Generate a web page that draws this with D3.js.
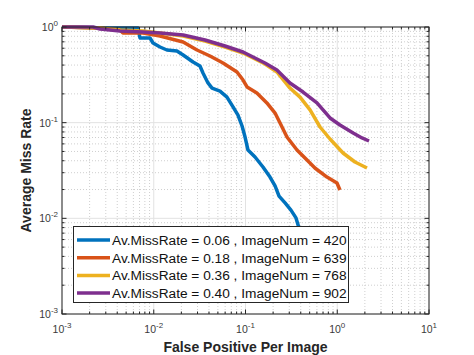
<!DOCTYPE html>
<html><head><meta charset="utf-8">
<script src="https://cdn.jsdelivr.net/npm/d3@7"></script>
<style>body{margin:0;background:#fff}svg{display:block}text{font-family:"Liberation Sans",Arial,Helvetica,sans-serif}</style>
</head><body><div id="chart"></div>
<script>
// ---- data ----
const seriesNames = ["Av.MissRate = 0.06 , ImageNum = 420","Av.MissRate = 0.18 , ImageNum = 639","Av.MissRate = 0.36 , ImageNum = 768","Av.MissRate = 0.40 , ImageNum = 902"];
const seriesColors = ["#0072BD","#D95319","#EDB120","#7E2F8E"];
const blueFPPI = [0.001,0.00333,0.00673,0.00708,0.0091,0.00982,0.0117,0.0139,0.0179,0.0209,0.0268,0.0319,0.0344,0.039,0.0432,0.0527,0.0628,0.0731,0.0828,0.0917,0.0989,0.1064,0.127,0.155,0.185,0.210,0.232,0.270,0.313,0.355,0.383,0.403];
const blueMR   = [1,0.976,0.976,0.767,0.767,0.680,0.618,0.575,0.561,0.510,0.431,0.391,0.331,0.260,0.230,0.214,0.185,0.146,0.120,0.0923,0.0708,0.0518,0.0438,0.0344,0.0270,0.0218,0.0171,0.0145,0.0122,0.0101,0.00793,0.00594];
const orangeFPPI = [0.001,0.00259,0.00428,0.00462,0.00764,0.0117,0.0209,0.0296,0.0410,0.0569,0.0807,0.094,0.104,0.133,0.171,0.210,0.238,0.283,0.364,0.468,0.571,0.773,0.993,1.07];
const orangeMR   = [1,0.976,0.930,0.866,0.866,0.805,0.697,0.575,0.498,0.421,0.339,0.279,0.236,0.204,0.161,0.126,0.0992,0.0708,0.0518,0.0407,0.0336,0.0270,0.0234,0.0198];
const yellowFPPI = [0.001,0.00259,0.00428,0.00764,0.0117,0.0209,0.0362,0.0598,0.094,0.127,0.163,0.220,0.305,0.393,0.505,0.649,0.834,1.156,1.56,2.11];
const yellowMR   = [1,0.976,0.930,0.908,0.866,0.805,0.714,0.618,0.535,0.463,0.411,0.339,0.230,0.185,0.136,0.0901,0.0675,0.0482,0.0388,0.0336];
const purpleFPPI = [0.001,0.00218,0.00259,0.00428,0.00764,0.0117,0.0209,0.0362,0.0598,0.094,0.127,0.163,0.220,0.305,0.424,0.601,0.834,1.07,1.49,1.86,2.22];
const purpleMR   = [1,1,0.953,0.908,0.887,0.866,0.825,0.731,0.633,0.548,0.474,0.421,0.355,0.260,0.209,0.161,0.112,0.0946,0.0780,0.0692,0.0643];
const xTickExps = [-3,-2,-1,0,1];
const yTickExps = [-3,-2,-1,0];
const xLabel = "False Positive Per Image";
const yLabel = "Average Miss Rate";

const series = [
  {x: blueFPPI, y: blueMR},
  {x: orangeFPPI, y: orangeMR},
  {x: yellowFPPI, y: yellowMR},
  {x: purpleFPPI, y: purpleMR}
];

const W = 474, H = 355;
const L = 62, R = 429, T = 27, B = 314;
const svg = d3.select("#chart").append("svg").attr("width", W).attr("height", H);
const x = d3.scaleLog().domain([1e-3, 1e1]).range([L, R]);
const y = d3.scaleLog().domain([1e-3, 1e0]).range([B, T]);

const minorVals = (lo, hi) => { const a = []; for (let e = lo; e < hi; e++) for (let k = 2; k <= 9; k++) a.push(k * Math.pow(10, e)); return a; };
const xMinor = minorVals(-3, 1), yMinor = minorVals(-3, 0);
const xMajor = xTickExps.map(e => Math.pow(10, e)), yMajor = yTickExps.map(e => Math.pow(10, e));

const grid = svg.append("g");
grid.selectAll(".xm").data(xMinor).enter().append("line")
  .attr("x1", d => x(d)).attr("x2", d => x(d)).attr("y1", T).attr("y2", B)
  .attr("stroke", "#cfcfcf").attr("stroke-width", 1).attr("stroke-dasharray", "1,2");
grid.selectAll(".ym").data(yMinor).enter().append("line")
  .attr("y1", d => y(d)).attr("y2", d => y(d)).attr("x1", L).attr("x2", R)
  .attr("stroke", "#cfcfcf").attr("stroke-width", 1).attr("stroke-dasharray", "1,2");
grid.selectAll(".xM").data(xMajor).enter().append("line")
  .attr("x1", d => x(d)).attr("x2", d => x(d)).attr("y1", T).attr("y2", B)
  .attr("stroke", "#e2e2e2").attr("stroke-width", 1);
grid.selectAll(".yM").data(yMajor).enter().append("line")
  .attr("y1", d => y(d)).attr("y2", d => y(d)).attr("x1", L).attr("x2", R)
  .attr("stroke", "#e2e2e2").attr("stroke-width", 1);

const line = d3.line().x(d => x(d[0])).y(d => y(d[1]));
series.forEach((s, i) => {
  svg.append("path").datum(s.x.map((v, j) => [v, s.y[j]]))
    .attr("d", line).attr("fill", "none").attr("stroke", seriesColors[i])
    .attr("stroke-width", 3.5).attr("stroke-linejoin", "round");
});

const ax = svg.append("g");
function ticks(vals, len, isX) {
  vals.forEach(v => {
    if (isX) {
      const p = x(v);
      ax.append("line").attr("x1", p).attr("x2", p).attr("y1", B).attr("y2", B - len).attr("stroke", "#262626");
      ax.append("line").attr("x1", p).attr("x2", p).attr("y1", T).attr("y2", T + len).attr("stroke", "#262626");
    } else {
      const p = y(v);
      ax.append("line").attr("y1", p).attr("y2", p).attr("x1", L).attr("x2", L + len).attr("stroke", "#262626");
      ax.append("line").attr("y1", p).attr("y2", p).attr("x1", R).attr("x2", R - len).attr("stroke", "#262626");
    }
  });
}
ticks(xMinor, 2.5, true); ticks(xMajor, 4.5, true);
ticks(yMinor, 2.5, false); ticks(yMajor, 4.5, false);
ax.append("rect").attr("x", L).attr("y", T).attr("width", R - L).attr("height", B - T)
  .attr("fill", "none").attr("stroke", "#262626").attr("stroke-width", 1);

xTickExps.forEach(e => {
  const t = svg.append("text").attr("x", x(Math.pow(10, e))).attr("y", 333)
    .attr("text-anchor", "middle").attr("fill", "#3a3a3a").attr("font-size", 10.5);
  t.append("tspan").text("10");
  t.append("tspan").attr("dy", -5).attr("font-size", 8).text(e);
});
yTickExps.forEach(e => {
  const t = svg.append("text").attr("x", L - 4).attr("y", y(Math.pow(10, e)) + 4)
    .attr("text-anchor", "end").attr("fill", "#3a3a3a").attr("font-size", 10.5);
  t.append("tspan").text("10");
  t.append("tspan").attr("dy", -5).attr("font-size", 8).text(e);
});

svg.append("text").attr("x", (L + R) / 2).attr("y", 352).attr("text-anchor", "middle")
  .attr("font-weight", "bold").attr("font-size", 14).attr("fill", "#262626").text(xLabel);
svg.append("text").attr("transform", `translate(31,${(T + B) / 2}) rotate(-90)`).attr("text-anchor", "middle")
  .attr("font-weight", "bold").attr("font-size", 14).attr("fill", "#262626").text(yLabel);

const lg = svg.append("g");
lg.append("rect").attr("x", 73.5).attr("y", 226.5).attr("width", 275).attr("height", 76)
  .attr("fill", "#fff").attr("stroke", "#262626").attr("stroke-width", 1);
seriesNames.forEach((n, i) => {
  const cy = 240 + i * 17.7;
  lg.append("line").attr("x1", 77).attr("x2", 110).attr("y1", cy).attr("y2", cy)
    .attr("stroke", seriesColors[i]).attr("stroke-width", 3.5);
  lg.append("text").attr("x", 112).attr("y", cy + 5).attr("font-size", 13.7).attr("fill", "#111").text(n);
});
</script></body></html>
